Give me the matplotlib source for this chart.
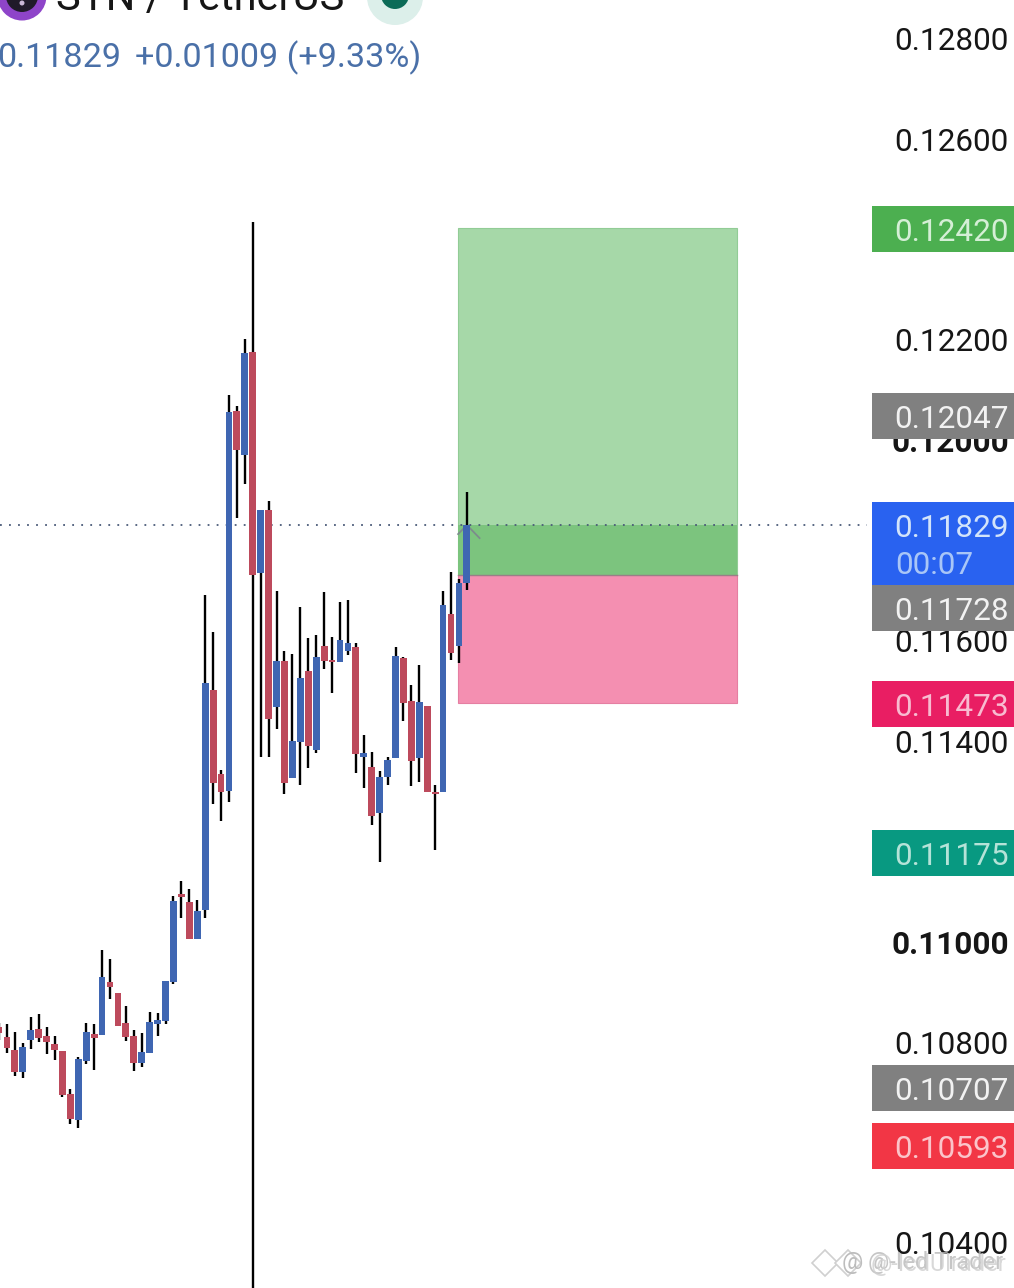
import matplotlib
matplotlib.use('Agg')
import matplotlib.pyplot as plt
from matplotlib.patches import Circle, Rectangle

plt.rcParams['font.family'] = ['Roboto', 'DejaVu Sans']

# candles, oldest first (blue = up, red = down)
opens = [0.10830, 0.10810, 0.10785, 0.10741, 0.10805, 0.10826, 0.10812, 0.10797, 0.10783, 0.10697,
         0.10645, 0.10763, 0.10816, 0.10814, 0.10920, 0.10898, 0.10838, 0.10812, 0.10759, 0.10779,
         0.10836, 0.10842, 0.10920, 0.11096, 0.11080, 0.11006, 0.11064, 0.11502, 0.11335, 0.11301,
         0.12058, 0.11971, 0.12176, 0.11736, 0.11861, 0.11468, 0.11560, 0.11327, 0.11399, 0.11540,
         0.11383, 0.11590, 0.11562, 0.11558, 0.11580, 0.11588, 0.11369, 0.11349, 0.11257, 0.11329,
         0.11367, 0.11566, 0.11480, 0.11367, 0.11470, 0.11299, 0.11299, 0.11654, 0.11590, 0.11716]
closes = [0.10818, 0.10789, 0.10741, 0.10791, 0.10824, 0.10808, 0.10801, 0.10785, 0.10695, 0.10647,
          0.10767, 0.10821, 0.10808, 0.10930, 0.10910, 0.10832, 0.10810, 0.10759, 0.10781, 0.10840,
          0.10844, 0.10922, 0.11082, 0.11090, 0.11006, 0.11062, 0.11516, 0.11317, 0.11299, 0.12056,
          0.11981, 0.12174, 0.11732, 0.11861, 0.11444, 0.11560, 0.11317, 0.11401, 0.11526, 0.11391,
          0.11568, 0.11560, 0.11558, 0.11602, 0.11596, 0.11375, 0.11377, 0.11251, 0.11329, 0.11363,
          0.11570, 0.11476, 0.11361, 0.11478, 0.11299, 0.11295, 0.11672, 0.11576, 0.11716, 0.11831]
highs = [0.10838, 0.10836, 0.10821, 0.10799, 0.10850, 0.10856, 0.10830, 0.10812, 0.10783, 0.10707,
         0.10771, 0.10838, 0.10836, 0.10984, 0.10966, 0.10898, 0.10872, 0.10824, 0.10818, 0.10860,
         0.10858, 0.10922, 0.11092, 0.11122, 0.11106, 0.11084, 0.11692, 0.11618, 0.11343, 0.12090,
         0.12068, 0.12202, 0.12435, 0.11861, 0.11879, 0.11700, 0.11580, 0.11574, 0.11668, 0.11606,
         0.11612, 0.11698, 0.11608, 0.11678, 0.11682, 0.11596, 0.11413, 0.11379, 0.11341, 0.11369,
         0.11588, 0.11568, 0.11512, 0.11552, 0.11470, 0.11313, 0.11700, 0.11737, 0.11723, 0.11897]
lows = [0.10805, 0.10779, 0.10733, 0.10729, 0.10787, 0.10801, 0.10777, 0.10765, 0.10691, 0.10637,
        0.10629, 0.10757, 0.10745, 0.10814, 0.10886, 0.10832, 0.10803, 0.10743, 0.10751, 0.10779,
        0.10812, 0.10836, 0.10916, 0.11048, 0.11006, 0.11006, 0.11048, 0.11275, 0.11241, 0.11279,
        0.11845, 0.11913, 0.10286, 0.11369, 0.11369, 0.11424, 0.11295, 0.11327, 0.11313, 0.11347,
        0.11377, 0.11544, 0.11496, 0.11558, 0.11572, 0.11337, 0.11307, 0.11233, 0.11159, 0.11313,
        0.11367, 0.11440, 0.11311, 0.11319, 0.11299, 0.11183, 0.11299, 0.11562, 0.11556, 0.11702]

# long position tool
target_price = 0.12423
entry_price = 0.11731
stop_price = 0.11476
last_price = 0.11832

axis_prices = [0.12800, 0.12600, 0.12200, 0.12000, 0.11600, 0.11400, 0.11000, 0.10800, 0.10400]
bold_prices = [0.12000, 0.11000]

# price tags on the right: text, box top, fill, text colour
tag_texts = ['0.12420', '0.12047', '0.11728', '0.11473', '0.11175', '0.10707', '0.10593']
tag_tops = [206, 393, 585, 681, 830, 1065, 1123]
tag_colors = ['#4CAF50', '#808080', '#808080', '#E91E63', '#089981', '#808080', '#F23645']
tag_text_colors = ['#D5EFD6', '#F2F2F2', '#F2F2F2', '#F8BBD0', '#B5E3D8', '#F2F2F2', '#FBC4CA']

BLUE = '#3F66B2'
RED = '#BD4A5C'
PX = 7.93  # candle spacing in pixels
LABEL_SIZE = 22.7

fig = plt.figure(figsize=(10.14, 12.88), dpi=100)

ax = fig.add_axes([0, 0, 1, 1])
ax.set_xlim(1 / PX, 1 / PX + 1014 / PX)
ax.set_ylim(0.10310, 0.128777)
ax.axis('off')

# position tool first, candles on top
left, right = 57.9, 93.06
ax.add_patch(Rectangle((left, entry_price), right - left, target_price - entry_price,
                       fc='#A6D8A8', ec='#92CC96', lw=0.8, zorder=1))
ax.add_patch(Rectangle((left, entry_price), right - left, last_price - entry_price,
                       fc='#7CC47E', ec='none', zorder=1.1))
ax.add_patch(Rectangle((left, stop_price), right - left, entry_price - stop_price,
                       fc='#F48FB1', ec='#E57FA2', lw=0.8, zorder=1))
ax.plot([left, right], [entry_price, entry_price], color='#9A7F86', lw=1, zorder=1.2)

ax.plot([0.126, 109.4], [last_price, last_price], color='#4A5A78', lw=1.3,
        ls=(0, (1, 4)), zorder=1.5)

for i in range(len(opens)):
    color = BLUE if closes[i] >= opens[i] else RED
    ax.vlines(i, lows[i], highs[i], color='black', lw=1.7, zorder=2)
    ax.bar(i, abs(closes[i] - opens[i]), bottom=min(opens[i], closes[i]), width=0.86,
           color=color, zorder=3)

# small crosshair chevron at the last candle
ax.plot([57.9, 59.0, 60.6], [0.11813, 0.11831, 0.11805], color='#7C8C8C', lw=1.3, zorder=1.8)

# scale labels follow the price axis
label_trans = ax.get_yaxis_transform()
for price in axis_prices:
    ax.text(1009 / 1014, price, f'{price:.5f}', transform=label_trans, ha='right', va='center_baseline',
            fontsize=LABEL_SIZE, color='#161616',
            fontweight='bold' if price in bold_prices else 'normal', zorder=4)

# everything around the chart is placed in pixels
px = fig.add_axes([0, 0, 1, 1], facecolor='none')
px.set_xlim(0, 1014)
px.set_ylim(1288, 0)
px.axis('off')

for text, top, fill, tcolor in zip(tag_texts, tag_tops, tag_colors, tag_text_colors):
    px.add_patch(Rectangle((872, top), 142, 46, fc=fill, ec='none', zorder=5))
    px.text(1009, top + 23, text, ha='right', va='center_baseline', fontsize=LABEL_SIZE, color=tcolor, zorder=6)

px.add_patch(Rectangle((872, 502), 142, 83, fc='#2962F0', ec='none', zorder=5))
px.text(1009, 525, '0.11829', ha='right', va='center_baseline', fontsize=LABEL_SIZE, color='#D3E4FA', zorder=6)
px.text(895, 562, '00:07', ha='left', va='center_baseline', fontsize=LABEL_SIZE, color='#A9C6F7', zorder=6)

# header, cut off by the top of the picture
px.add_patch(Circle((22, -4), 24.5, fc='#8E44C9', ec='none'))
px.add_patch(Circle((22, -4), 16, fc='#201A2A', ec='none'))
px.add_patch(Circle((22, 3), 2.5, fc='#C9B7D6', ec='none'))
px.add_patch(Circle((395, -3), 28, fc='#DCEFEA', ec='none'))
px.add_patch(Circle((395, -5), 14, fc='#0B6B57', ec='none'))
px.text(56, 10, 'SYN / TetherUS', ha='left', va='baseline', fontsize=30, color='#161616')
px.text(-3, 54, '0.11829', ha='left', va='center_baseline', fontsize=24.6, color='#4A70A8')
px.text(135, 54, '+0.01009 (+9.33%)', ha='left', va='center_baseline', fontsize=24.6, color='#4A70A8')

# watermark, doubled in the source image
px.plot([825, 848], [1263, 1263], ls='none', marker='D', ms=13, mfc='white', mec='#D0D0D0', mew=1.2)
px.text(842, 1263, '@', ha='left', va='center', fontsize=17, color='#BDBDBD')
px.text(868, 1263, '@-Ied Trader', ha='left', va='center', fontsize=17, color='#B8B8B8', alpha=0.8)
px.text(871, 1264, '@-IcdUlrader', ha='left', va='center', fontsize=17, color='#CFCFCF', alpha=0.8)

fig.savefig('out.png', dpi=100)
